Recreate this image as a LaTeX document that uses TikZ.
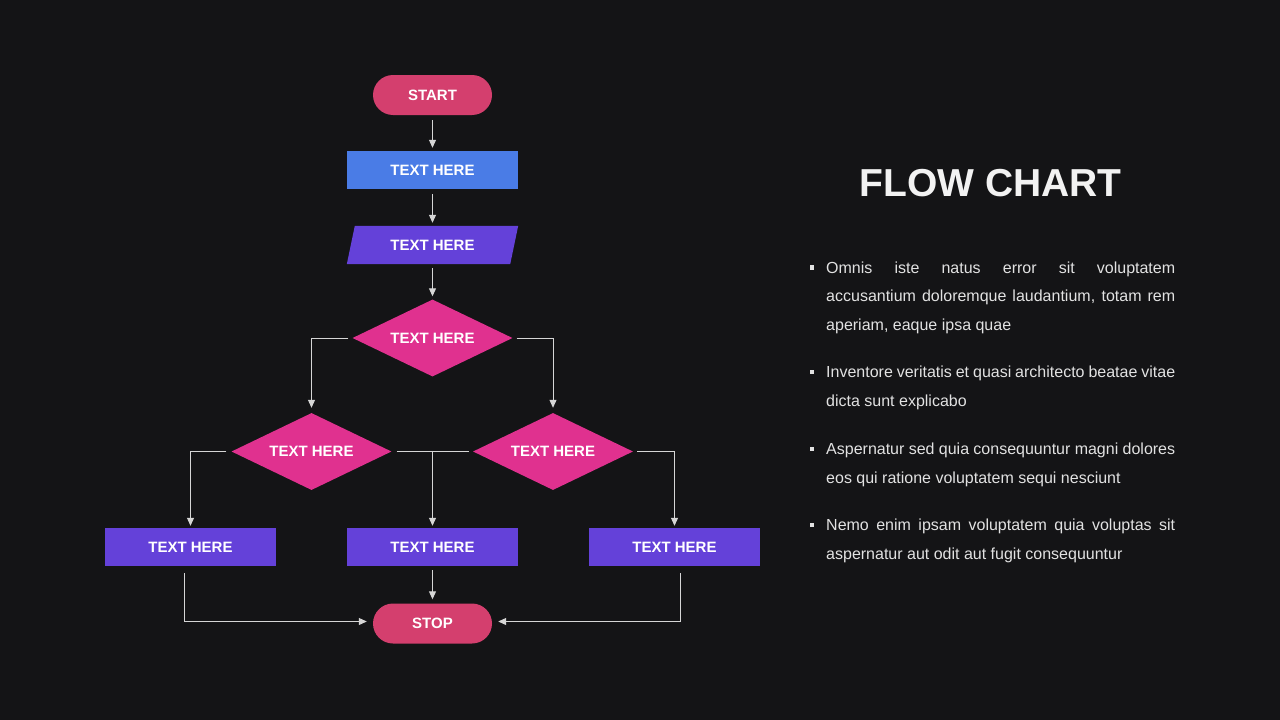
\documentclass[tikz,border=0pt]{standalone}
\usepackage{fontspec}
\setmainfont{Liberation Sans}
\usetikzlibrary{shapes.geometric,arrows.meta}
\definecolor{bgc}{HTML}{141416}
\definecolor{pillc}{HTML}{D43F6E}
\definecolor{bluec}{HTML}{4A7CE6}
\definecolor{purpc}{HTML}{6441D9}
\definecolor{diac}{HTML}{E0318F}
\definecolor{linec}{HTML}{D6D6D6}
\definecolor{bodyc}{HTML}{E2E2E2}
\tikzset{
  lbl/.style={text=white,font=\bfseries\fontsize{15}{18}\selectfont,inner sep=0pt},
  pill/.style={lbl,fill=pillc,rounded corners=20pt,minimum width=119pt,minimum height=40pt},
  procbox/.style={lbl,fill=#1,minimum width=171pt,minimum height=38pt},
  decide/.style={lbl,diamond,aspect=2.1,fill=diac,minimum width=160pt,minimum height=77pt},
  conn/.style={draw=linec,line width=1pt,-{Triangle[width=7pt,length=8pt]}},
  plainln/.style={draw=linec,line width=1pt},
  bodytxt/.style={text=bodyc,font=\fontsize{16}{28.5}\selectfont,text width=349pt,align=justify,inner sep=0pt,anchor=base west},
  bul/.style={fill=bodyc,minimum size=4.5pt,inner sep=0pt}
}
\begin{document}
\begin{tikzpicture}[x=1pt,y=-1pt]
\useasboundingbox (0,0) rectangle (1280,720);
\fill[bgc] (0,0) rectangle (1280,720);

% flow nodes
\node[pill] (start) at (432.5,95) {START};
\node[procbox=bluec] (b1) at (432.5,170) {TEXT HERE};
\path (432.5,245) node[minimum width=171pt,minimum height=38pt,inner sep=0pt] (para) {};
\fill[purpc] ([xshift=8pt]para.north west) -- (para.north east) -- ([xshift=-8pt]para.south east) -- (para.south west) -- cycle;
\node[lbl] (paralbl) at (para) {TEXT HERE};
\node[decide] (d1) at (432.5,338) {TEXT HERE};
\node[decide] (d2) at (311.5,451.5) {TEXT HERE};
\node[decide] (d3) at (553,451.5) {TEXT HERE};
\node[procbox=purpc] (bl) at (190.5,547) {TEXT HERE};
\node[procbox=purpc] (bm) at (432.5,547) {TEXT HERE};
\node[procbox=purpc] (br) at (674.5,547) {TEXT HERE};
\node[pill] (stop) at (432.5,623.5) {STOP};

% connectors
\draw[conn,shorten <=5pt,shorten >=3pt] (start) -- (b1);
\draw[conn,shorten <=5pt,shorten >=3pt] (b1) -- (para);
\draw[conn,shorten <=4pt,shorten >=3pt] (para) -- (d1.north);
\draw[conn,shorten <=4pt,shorten >=5pt] (d1.west) -| (d2.north);
\draw[conn,shorten <=4pt,shorten >=5pt] (d1.east) -| (d3.north);
\draw[conn,shorten <=5pt,shorten >=2pt] (d2.west) -| (bl.north);
\draw[conn,shorten <=4pt,shorten >=2pt] (d3.east) -| (br.north);
\draw[plainln,shorten <=5pt,shorten >=4pt] (d2.east) -- (d3.west);
\coordinate (junc) at (bm.north |- d2.east);
\draw[conn,shorten >=2pt] (junc) -- (bm.north);
\coordinate (blout) at ([xshift=-6pt]bl.south);
\coordinate (brout) at ([xshift=6pt]br.south);
\draw[conn,shorten <=7pt,shorten >=6pt] (blout) |- ([yshift=2pt]stop.west);
\draw[conn,shorten <=7pt,shorten >=6pt] (brout) |- ([yshift=2pt]stop.east);
\draw[conn,shorten <=4pt,shorten >=4pt] (bm) -- (stop);

% title and text
\node[text=white!95!black,font=\bfseries\fontsize{39}{44}\selectfont,inner sep=0pt] (title) at (990.5,183) {FLOW CHART};

\node[bul] (bu1) at (812,267.5) {};
\node[bul] (bu2) at (812,372) {};
\node[bul] (bu3) at (812,449) {};
\node[bul] (bu4) at (812,525) {};
\node[bodytxt] (p1) at (826,273) {Omnis iste natus error sit voluptatem\linebreak accusantium doloremque laudantium, totam rem\linebreak aperiam, eaque ipsa quae};
\node[bodytxt] (p2) at (826,377.5) {Inventore veritatis et quasi architecto beatae vitae\linebreak dicta sunt explicabo};
\node[bodytxt] (p3) at (826,454.5) {Aspernatur sed quia consequuntur magni dolores\linebreak eos qui ratione voluptatem sequi nesciunt};
\node[bodytxt] (p4) at (826,530.5) {Nemo enim ipsam voluptatem quia voluptas sit\linebreak aspernatur aut odit aut fugit consequuntur};
\end{tikzpicture}
\end{document}
